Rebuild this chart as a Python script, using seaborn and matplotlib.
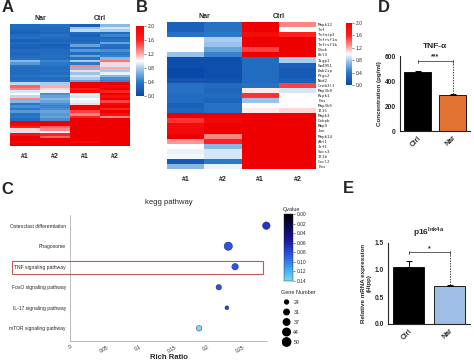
import numpy as np
import pandas as pd
import matplotlib
matplotlib.use('Agg')
import matplotlib.pyplot as plt
import seaborn as sns
from matplotlib.colors import LinearSegmentedColormap, Normalize
from matplotlib.cm import ScalarMappable
from matplotlib.patches import Rectangle

# ---------------- data ----------------
heat_cols = ['#1', '#2', '#1', '#2']
group_labels = ['Nar', 'Ctrl']

# Panel A heatmap (rows top -> bottom)
A_nar1 = [0.3, 0.3, 0.25, 0.2, 0.3, 0.35, 0.2, 0.3, 0.25, 0.2, 0.3, 0.25, 0.3, 0.35, 0.7, 0.55,
          0.35, 0.3, 0.3, 0.3, 0.35, 0.3, 0.35, 0.85, 1.4, 1.3, 0.9, 1.0, 0.85, 1.3, 0.7, 0.4,
          0.5, 0.4, 0.55, 0.35, 0.4, 0.3, 2.0, 1.9, 1.6, 1.1, 0.9, 1.8, 2.0, 2.0, 1.9, 2.0]
A_nar2 = [0.35, 0.3, 0.3, 0.25, 0.35, 0.3, 0.25, 0.3, 0.2, 0.25, 0.3, 0.3, 0.35, 0.3, 0.45, 0.4,
          0.35, 0.3, 0.35, 0.3, 0.4, 0.3, 0.35, 0.8, 1.2, 1.1, 0.95, 0.5, 0.6, 0.7, 0.6, 0.5,
          0.45, 0.5, 0.6, 0.55, 0.6, 0.5, 2.0, 2.0, 1.4, 1.3, 0.95, 1.6, 1.4, 2.0, 2.0, 2.0]
A_ctrl1 = [0.2, 0.75, 0.85, 0.3, 0.2, 0.3, 0.25, 0.35, 0.6, 0.3, 0.55, 0.3, 0.6, 0.35, 0.8, 0.4,
           1.3, 0.7, 1.1, 0.75, 0.9, 0.8, 0.6, 2.0, 2.0, 1.7, 1.9, 1.0, 0.9, 1.0, 0.95, 1.1,
           2.0, 2.0, 1.5, 1.3, 1.6, 2.0, 2.0, 2.0, 2.0, 2.0, 2.0, 2.0, 2.0, 2.0, 1.85, 2.0]
A_ctrl2 = [0.7, 0.9, 0.8, 0.3, 0.45, 0.25, 0.35, 0.6, 0.35, 0.3, 0.5, 0.4, 0.45, 0.7, 1.35, 1.1,
           0.9, 1.2, 0.8, 0.95, 0.7, 0.5, 0.45, 2.0, 1.9, 2.0, 1.6, 2.0, 1.8, 2.0, 1.5, 1.9,
           2.0, 1.6, 2.0, 1.8, 1.3, 2.0, 2.0, 2.0, 2.0, 2.0, 2.0, 2.0, 2.0, 2.0, 2.0, 2.0]

# Panel B heatmap
genes_B = ['Mapk12', 'Tnf', 'Tnfaip3', 'Tnfrsf1a', 'Tnfrsf1b', 'Chuk', 'Bcl3', 'Iigp1', 'Gm4951',
           'Dab2ip', 'Ptgs2', 'Nod2', 'Creb3l1', 'Map3k8', 'Ripk1', 'Fas', 'Map3k5', 'Il15',
           'Mapk3', 'Cebpb', 'Mmp9', 'Jun', 'Mapk14', 'Akt1', 'Irf1', 'Socs3', 'Il1b', 'Cxcl2', 'Fos']
B_nar1 = [0.2, 0.2, 0.35, 1.0, 1.0, 1.0, 0.75, 0.05, 0.05, 0.0, 0.0, 0.1, 0.35, 0.35, 0.3,
          0.3, 0.2, 0.25, 2.0, 1.55, 1.85, 1.9, 2.0, 1.25, 1.0, 0.95, 0.97, 0.15, 0.7]
B_nar2 = [0.35, 0.35, 0.4, 0.8, 0.75, 0.6, 0.45, 0.05, 0.05, 0.05, 0.05, 0.1, 0.3, 0.25, 0.3,
          0.25, 0.35, 0.35, 2.0, 1.9, 2.0, 2.0, 1.3, 1.6, 0.7, 0.9, 0.9, 0.4, 0.95]
B_ctrl1 = [2.0, 2.0, 1.85, 2.0, 2.0, 1.5, 2.0, 0.3, 0.3, 0.3, 0.3, 0.3, 0.35, 1.05, 1.55,
           0.75, 1.0, 1.05, 2.0, 2.0, 2.0, 2.0, 2.0, 2.0, 2.0, 2.0, 2.0, 2.0, 2.0]
B_ctrl2 = [1.3, 1.0, 1.6, 2.0, 2.0, 2.0, 2.0, 0.8, 0.2, 0.15, 0.15, 0.2, 1.5, 0.9, 1.0,
           1.0, 1.0, 1.1, 2.0, 2.0, 2.0, 2.0, 2.0, 2.0, 2.0, 2.0, 2.0, 2.0, 2.0]

# Panel C KEGG dot plot
pathways = ['Osteoclast differentiation', 'Phagosome', 'TNF signaling pathway',
            'FoxO signaling pathway', 'IL-17 signaling pathway', 'mTOR signaling pathway']
rich_ratio = [0.289, 0.233, 0.243, 0.219, 0.231, 0.190]
qvalue = [0.07, 0.085, 0.085, 0.085, 0.08, 0.14]
gene_number = [44, 50, 37, 31, 24, 31]
gene_legend = [24, 31, 37, 44, 50]

# Panel D
d_groups = ['Ctrl', 'Nar']
d_vals = [470, 290]
d_err = [8, 8]

# Panel E
e_groups = ['Ctrl', 'Nar']
e_vals = [1.05, 0.70]
e_err = [0.11, 0.03]

# ---------------- figure ----------------
sns.set_theme(style='white')
plt.rcParams['font.family'] = ['Liberation Sans', 'DejaVu Sans']
plt.rcParams['axes.linewidth'] = 0.8

W, H = 474, 364
fig = plt.figure(figsize=(W / 100, H / 100), dpi=100)


def ax_px(x0, y0, x1, y1):
    return fig.add_axes([x0 / W, 1 - y1 / H, (x1 - x0) / W, (y1 - y0) / H])


hm_cmap = LinearSegmentedColormap.from_list('hm', [
    (0.0, '#0a48a8'), (0.2, '#2a78c8'), (0.4, '#a8cdee'), (0.5, '#ffffff'),
    (0.62, '#ff9a9a'), (0.8, '#ff2020'), (1.0, '#ee0000')])


def heat(ax, cax, cols, rowlabels=None):
    df = pd.DataFrame(np.array(cols).T, columns=heat_cols)
    sns.heatmap(df, ax=ax, cmap=hm_cmap, vmin=0, vmax=2, cbar_ax=cax,
                xticklabels=heat_cols, yticklabels=rowlabels if rowlabels else False)
    ax.tick_params(axis='x', length=0, labelsize=5, pad=5)
    for t in ax.get_xticklabels():
        t.set_fontweight('bold')
        t.set_rotation(0)
    cax.set_yticks([0, 0.4, 0.8, 1.2, 1.6, 2.0])
    cax.set_yticklabels(['0.0', '0.4', '0.8', '1.2', '1.6', '2.0'])
    cax.tick_params(labelsize=3.5, length=1.5, width=0.4, pad=1)
    ax.text(1, 1.015, group_labels[0], transform=ax.get_xaxis_transform(), ha='center',
            va='bottom', fontsize=5, fontweight='bold')
    ax.text(3, 1.015, group_labels[1], transform=ax.get_xaxis_transform(), ha='center',
            va='bottom', fontsize=5, fontweight='bold')
    ax.set_xlabel('')
    ax.set_ylabel('')


# Panel A
axA = ax_px(10, 24, 130, 146)
caxA = ax_px(136, 26, 144, 96)
heat(axA, caxA, [A_nar1, A_nar2, A_ctrl1, A_ctrl2])

# Panel B
axB = ax_px(167, 22, 316, 169)
caxB = ax_px(346, 23, 352, 85)
heat(axB, caxB, [B_nar1, B_nar2, B_ctrl1, B_ctrl2], rowlabels=genes_B)
axB.yaxis.tick_right()
axB.tick_params(axis='y', length=0, labelsize=3, pad=1.5)
for t in axB.get_yticklabels():
    t.set_rotation(0)
    t.set_family('DejaVu Sans Mono')

# Panel C
axC = ax_px(70, 215, 267, 341)
q_cmap = LinearSegmentedColormap.from_list('q', ['#000000', '#0a0a55', '#1a1aa0', '#2a50e0',
                                                 '#3aa0f0', '#7ad8f8'])
dfC = pd.DataFrame({'path': pathways, 'rich': rich_ratio, 'q': qvalue, 'genes': gene_number})
smin, smax = 8, 36
sns.scatterplot(data=dfC, x='rich', y='path', hue='q', size='genes', palette=q_cmap,
                hue_norm=(0, 0.14), sizes=(smin, smax), size_norm=(24, 50), legend=False,
                ax=axC, edgecolor='#1a1a50', linewidth=0.3)
for coll in axC.collections:
    coll.set_clip_on(False)
axC.set_xlim(0, 0.29)
axC.set_ylim(5.62, -0.52)
axC.set_xticks([0, 0.05, 0.1, 0.15, 0.2, 0.25])
axC.set_xticklabels(['0', '0.05', '0.1', '0.15', '0.2', '0.25'], rotation=30)
axC.tick_params(axis='both', labelsize=3.5, length=2, width=0.4, pad=1)
axC.tick_params(axis='x', pad=0.5)
axC.tick_params(axis='y', labelsize=3.6)
for s in ['top', 'right']:
    axC.spines[s].set_visible(False)
for s in ['left', 'bottom']:
    axC.spines[s].set_linewidth(0.4)
    axC.spines[s].set_color('#888888')
axC.set_xlabel('Rich Ratio', fontsize=5.5, fontweight='bold', labelpad=0)
axC.set_ylabel('')
axC.set_title('kegg pathway', fontsize=5.5, pad=8)
fig.patches.append(Rectangle((12 / W, 1 - 274 / H), (263 - 12) / W, 13 / H, transform=fig.transFigure,
                             fill=False, edgecolor='#c05a5a', linewidth=0.8))

caxQ = ax_px(284, 214, 293, 281)
cbQ = fig.colorbar(ScalarMappable(norm=Normalize(0, 0.14), cmap=q_cmap), cax=caxQ)
caxQ.invert_yaxis()
cbQ.set_ticks([0, 0.02, 0.04, 0.06, 0.08, 0.10, 0.12, 0.14])
cbQ.set_ticklabels(['0.00', '0.02', '0.04', '0.06', '0.08', '0.10', '0.12', '0.14'])
cbQ.outline.set_linewidth(0.3)
caxQ.tick_params(labelsize=3.5, length=1.5, width=0.4, pad=1)
fig.text(283 / W, 1 - 210 / H, 'Qvalue', fontsize=4, va='center', ha='left')

axL = ax_px(282, 297, 320, 347)
leg_s = [smin + (g - 24) / (50 - 24) * (smax - smin) for g in gene_legend]
axL.scatter([0.12] * len(gene_legend), range(len(gene_legend)), s=leg_s, color='black')
for i, g in enumerate(gene_legend):
    axL.text(0.3, i, str(g), fontsize=3.8, va='center', ha='left')
axL.set_xlim(0, 1)
axL.set_ylim(4.5, -0.5)
axL.axis('off')
fig.text(281 / W, 1 - 293 / H, 'Gene Number', fontsize=4, va='center', ha='left')


def barpanel(ax, groups, vals, errs, colors, ylim, yticks, yfmt, ylabel, title, level, dash_lo, star):
    sns.barplot(x=groups, y=vals, hue=groups, palette=colors, ax=ax, width=0.77,
                edgecolor='black', linewidth=0.6, legend=False)
    ax.errorbar(range(len(vals)), vals, yerr=[[0] * len(errs), errs], fmt='none',
                ecolor='black', elinewidth=0.7, capsize=2.2, capthick=0.7)
    ax.set_ylim(*ylim)
    ax.set_xlim(-0.5, 1.5)
    ax.set_yticks(yticks)
    ax.set_yticklabels([yfmt.format(v) for v in yticks])
    ax.tick_params(axis='y', labelsize=4.8, length=2, width=0.7, pad=1)
    ax.tick_params(axis='x', labelsize=5, length=2, width=0.7, pad=0.5)
    for t in ax.get_xticklabels():
        t.set_rotation(45)
        t.set_fontweight('bold')
        t.set_ha('right')
        t.set_rotation_mode('anchor')
    for t in ax.get_yticklabels():
        t.set_fontweight('bold')
    for s in ['top', 'right']:
        ax.spines[s].set_visible(False)
    ax.spines['left'].set_linewidth(0.8)
    ax.spines['bottom'].set_linewidth(0.8)
    ax.set_ylabel(ylabel, fontsize=4.5, fontweight='bold', labelpad=2)
    ax.set_title(title, fontsize=6, fontweight='bold', pad=6)
    span = ylim[1] - ylim[0]
    ax.plot([0, 1], [level, level], color='#444444', lw=0.6)
    ax.plot([0, 0], [level - span * 0.02, level + span * 0.02], color='#444444', lw=0.6)
    ax.plot([1, 1], [level - span * 0.02, level + span * 0.02], color='#444444', lw=0.6)
    ax.plot([1, 1], [dash_lo, level], color='#444444', lw=0.7, ls=(0, (1.5, 1.2)))
    ax.text(0.5, level + span * 0.005, star, ha='center', va='bottom', fontsize=5, fontweight='bold')


# Panel D
axD = ax_px(400, 56, 470, 131)
barpanel(axD, d_groups, d_vals, d_err, ['#000000', '#ff6a14'], (0, 600), [0, 200, 400, 600],
         '{:.0f}', 'Concentration (pg/ml)', 'TNF-α', 560, d_vals[1] + d_err[1], '***')

# Panel E
axE = ax_px(388, 243, 470, 324)
barpanel(axE, e_groups, e_vals, e_err, ['#000000', '#94bdf0'], (0, 1.5), [0, 0.5, 1.0, 1.5],
         '{:.1f}', 'Relative mRNA expression\n(Hipp)', r'p16$^{\mathregular{Ink4a}}$', 1.33,
         e_vals[1] + e_err[1], '*')

# Panel letters
for lab, x, y in [('A', 2, 8), ('B', 136, 8), ('C', 1, 190), ('D', 378, 8), ('E', 343, 188)]:
    fig.text(x / W, 1 - y / H, lab, fontsize=12, fontweight='bold', va='center', ha='left')

fig.savefig('out.png', dpi=100)
